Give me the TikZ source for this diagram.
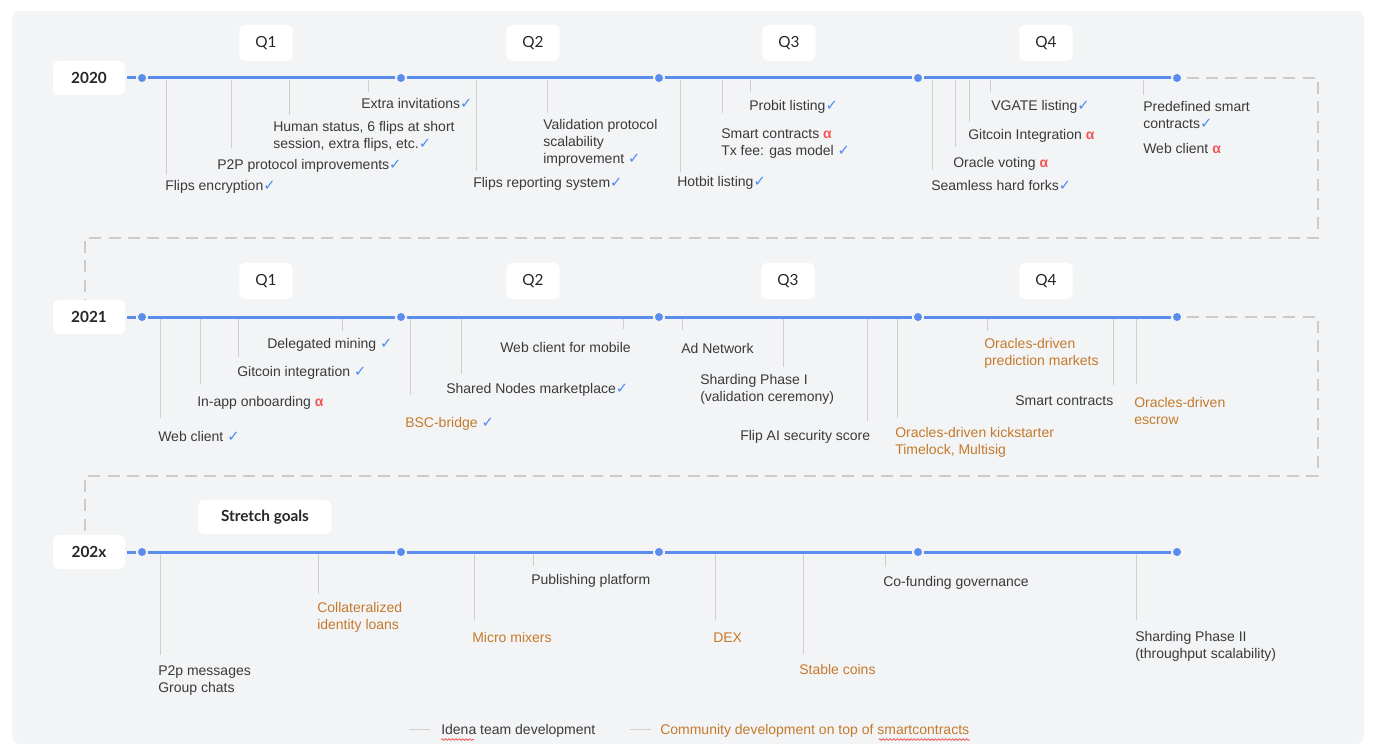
\documentclass[tikz,border=0pt]{standalone}
\usepackage{fontspec}
\setmainfont{Liberation Sans}
\newfontfamily\lato{Lato}
\newfontfamily\dejavu{DejaVu Sans}
\usetikzlibrary{decorations.pathmorphing}
\definecolor{cardbg}{HTML}{F3F4F6}
\definecolor{tlblue}{HTML}{5B8DEF}
\definecolor{tickgray}{HTML}{CFCFCF}
\definecolor{dashgray}{HTML}{CBCBCB}
\definecolor{txt}{HTML}{3A3A3A}
\definecolor{orng}{HTML}{C47A2C}
\definecolor{ckblue}{HTML}{4C8BF5}
\definecolor{alred}{HTML}{F25757}
\newcommand{\ck}{{\dejavu\bfseries\color{ckblue}\fontsize{11}{12}\selectfont ✓}}
\newcommand{\al}{{\color{alred}\bfseries α}}
\begin{document}
\begin{tikzpicture}[x=0.75pt,y=-0.75pt,
  lbl/.style={anchor=west,inner sep=0pt,align=left,text=txt,yshift=-1.3pt,font=\fontsize{10.5}{12.75}\selectfont},
  olbl/.style={lbl,text=orng},
  tick/.style={draw=tickgray,line width=0.75pt},
  yearbox/.style={fill=white,rounded corners=4pt,minimum width=54pt,minimum height=25.5pt,inner sep=0pt,font=\lato\bfseries\fontsize{11.5}{14}\selectfont,text=black!85},
  qbox/.style={fill=white,rounded corners=4pt,minimum width=40pt,minimum height=27pt,inner sep=0pt,font=\lato\fontsize{11.5}{14}\selectfont,text=black!85},
  dot/.style={circle,fill=tlblue,inner sep=0pt,minimum size=6pt},
  blueline/.style={draw=tlblue,line width=2.25pt,shorten <=1.5pt,shorten >=1.5pt},
  dashline/.style={draw=dashgray,line width=2pt,dash pattern=on 9pt off 5.5pt},
  squig/.style={draw=alred,line width=0.6pt,decorate,decoration={snake,amplitude=0.6pt,segment length=2.6pt}}
]
\useasboundingbox (0,0) rectangle (1377,756);
\fill[white] (0,0) rectangle (1377,756);
\fill[cardbg,rounded corners=6pt] (12,11) rectangle (1364,744);

% timelines
\foreach \r/\yy/\yr in {1/78/2020,2/317/2021,3/552/202x}{
  \node[yearbox] (y\r) at (89,\yy) {\yr};
  \node[dot] (d\r-1) at (142,\yy) {};
  \node[dot] (d\r-2) at (401,\yy) {};
  \node[dot] (d\r-3) at (659,\yy) {};
  \node[dot] (d\r-4) at (918,\yy) {};
  \node[dot] (d\r-5) at (1177,\yy) {};
  \draw[blueline] (y\r) -- (d\r-1);
  \draw[blueline] (d\r-1) -- (d\r-2);
  \draw[blueline] (d\r-2) -- (d\r-3);
  \draw[blueline] (d\r-3) -- (d\r-4);
  \draw[blueline] (d\r-4) -- (d\r-5);
}
\coordinate (e1) at (1318,238);
\coordinate (e2) at (1318,476);
\coordinate (f1) at (85,300);
\coordinate (f2) at (85,535);
\draw[dashline] ([xshift=4pt]d1-5.east) -| (e1) -| (f1);
\draw[dashline] ([xshift=4pt]d2-5.east) -| (e2) -| (f2);

% quarter boxes
\node[qbox] (q11) at (266,43) {Q1};
\node[qbox] (q12) at (533,43) {Q2};
\node[qbox] (q13) at (789,43) {Q3};
\node[qbox] (q14) at (1046,43) {Q4};
\node[qbox] (q21) at (266,281) {Q1};
\node[qbox] (q22) at (533,281) {Q2};
\node[qbox] (q23) at (788,281) {Q3};
\node[qbox] (q24) at (1046,281) {Q4};
\node[qbox,minimum width=100pt,minimum height=25.5pt,font=\lato\bfseries\fontsize{11.5}{14}\selectfont] (sg) at (265,517) {Stretch goals};

% row 1
\node[lbl] (a1) at (165,185) {Flips encryption\ck};
\node[lbl] (a2) at (217,164) {P2P protocol improvements\ck};
\node[lbl] (a3) at (273,134.5) {Human status, 6 flips at short\\session, extra flips, etc.\ck};
\node[lbl] (a4) at (361,102) {Extra invitations\ck};
\node[lbl] (a5) at (473,182) {Flips reporting system\ck};
\node[lbl] (a6) at (543,141) {Validation protocol\\scalability\\improvement \ck};
\node[lbl] (a7) at (677,181) {Hotbit listing\ck};
\node[lbl] (a8) at (721,141.5) {Smart contracts \al\\Tx fee: gas model \ck};
\node[lbl] (a9) at (749,105) {Probit listing\ck};
\node[lbl] (a10) at (931,184) {Seamless hard forks\ck};
\node[lbl] (a11) at (953,162) {Oracle voting \al};
\node[lbl] (a12) at (968,134) {Gitcoin Integration \al};
\node[lbl] (a13) at (991,105) {VGATE listing\ck};
\node[lbl] (a14) at (1143,113.5) {Predefined smart\\contracts\ck};
\node[lbl] (a15) at (1143,147) {Web client \al};
\foreach \x/\e in {166/175,231/148,289/115,368/92,476/171,547/113,680/172,722/113,750/92,932/170,955/147,969/122,990/92,1143/95}
  \draw[tick] (\x,80) -- (\x,\e);

% row 2
\node[lbl] (b1) at (158,435) {Web client \ck};
\node[lbl] (b2) at (197,401) {In-app onboarding \al};
\node[lbl] (b3) at (237,371) {Gitcoin integration \ck};
\node[lbl] (b4) at (267,343) {Delegated mining \ck};
\node[olbl] (b5) at (405,422) {BSC-bridge \ck};
\node[lbl] (b6) at (446,388) {Shared Nodes marketplace\ck};
\node[lbl] (b7) at (500,346) {Web client for mobile};
\node[lbl] (b8) at (681,347) {Ad Network};
\node[lbl] (b9) at (700,387.5) {Sharding Phase I\\(validation ceremony)};
\node[lbl] (b10) at (740,435) {Flip AI security score};
\node[olbl] (b11) at (895,440.5) {Oracles-driven kickstarter\\Timelock, Multisig};
\node[olbl] (b12) at (984,351.5) {Oracles-driven\\prediction markets};
\node[lbl] (b13) at (1015,399) {Smart contracts};
\node[olbl] (b14) at (1134,409.5) {Oracles-driven\\escrow};
\foreach \x/\e in {160/418,200/384,238/357,342/331,410/395,461/374,623/329,682/330,783/367,867/421,897/418,987/331,1113/385,1136/384}
  \draw[tick] (\x,319) -- (\x,\e);

% row 3
\node[lbl] (c1) at (158,678.5) {P2p messages\\Group chats};
\node[olbl] (c2) at (317,615.5) {Collateralized\\identity loans};
\node[olbl] (c3) at (472,636) {Micro mixers};
\node[lbl] (c4) at (531,579) {Publishing platform};
\node[olbl] (c5) at (713,636) {DEX};
\node[olbl] (c6) at (799,668) {Stable coins};
\node[lbl] (c7) at (883,581) {Co-funding governance};
\node[lbl] (c8) at (1135,644.5) {Sharding Phase II\\(throughput scalability)};
\foreach \x/\e in {160/655,318/594,474/620,533/566,715/620,803/654,885/567,1136/620}
  \draw[tick] (\x,554) -- (\x,\e);

% legend
\node[lbl] (l1) at (441,729) {Idena team development};
\node[olbl] (l2) at (660,729) {Community development on top of smartcontracts};
\coordinate (l1s) at (409,729);
\coordinate (l2s) at (630,729);
\draw[tick] (l1s) -- ++(21,0);
\draw[tick] (l2s) -- ++(21,0);
\draw[squig] ([yshift=-1.5pt]l1.south west) -- ++(33,0);
\draw[squig] ([yshift=-1.5pt,xshift=-68pt]l2.south east) -- ([yshift=-1.5pt]l2.south east);
\end{tikzpicture}
\end{document}
